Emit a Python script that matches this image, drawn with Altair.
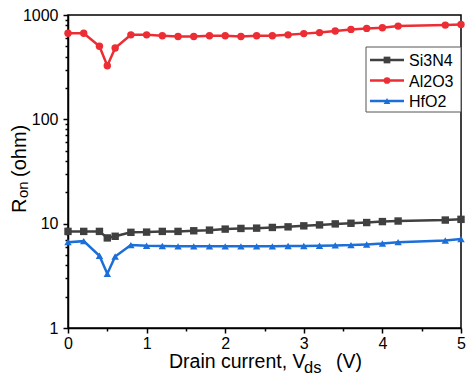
import altair as alt
import pandas as pd

# ---- data ----
vds = [0, 0.2, 0.4, 0.5, 0.6, 0.8, 1.0, 1.2, 1.4, 1.6, 1.8, 2.0, 2.2, 2.4, 2.6,
       2.8, 3.0, 3.2, 3.4, 3.6, 3.8, 4.0, 4.2, 4.8, 5.0]
si3n4 = [8.43, 8.43, 8.43, 7.30, 7.57, 8.26, 8.30, 8.43, 8.43, 8.55, 8.67, 8.87, 9.0,
         9.06, 9.2, 9.32, 9.53, 9.73, 9.95, 10.09, 10.25, 10.47, 10.6, 10.83, 11.0]
al2o3 = [668, 668, 501, 326, 483, 645, 645, 632, 622, 622, 632, 632, 622, 632, 632,
         645, 663, 678, 703, 728, 744, 755, 783, 800, 811]
hfo2 = [6.65, 6.8, 4.92, 3.31, 4.84, 6.23, 6.14, 6.1, 6.06, 6.06, 6.06, 6.06, 6.06,
        6.06, 6.06, 6.1, 6.1, 6.14, 6.19, 6.23, 6.32, 6.45, 6.65, 6.9, 7.14]

series_names = ["Si3N4", "Al2O3", "HfO2"]
series_colors = ["#404040", "#ec2d34", "#1c6ed8"]
series_shapes = ["square", "circle", "triangle-up"]

x_ticks = [0, 0.5, 1, 1.5, 2, 2.5, 3, 3.5, 4, 4.5, 5]
x_major = [0, 1, 2, 3, 4, 5]
y_major = [1, 10, 100, 1000]
y_ticks = [1, 2, 3, 4, 5, 6, 7, 8, 9, 10, 20, 30, 40, 50, 60, 70, 80, 90,
           100, 200, 300, 400, 500, 600, 700, 800, 900, 1000]

rows = []
for name, vals in zip(series_names, [si3n4, al2o3, hfo2]):
    for xv, yv in zip(vds, vals):
        rows.append({"vds": xv, "ron": yv, "series": name})
df = pd.DataFrame(rows)

FONT = "Liberation Sans"
W, H = 393, 313

color_scale = alt.Scale(domain=series_names, range=series_colors)
shape_scale = alt.Scale(domain=series_names, range=series_shapes)

x_major_s = "[" + ",".join(str(v) for v in x_major) + "]"
y_major_s = "[" + ",".join(str(v) for v in y_major) + "]"

x_enc = alt.X("vds:Q", scale=alt.Scale(domain=[0, 5], nice=False),
              axis=alt.Axis(values=x_ticks, title=None, grid=False,
                            labelExpr=f"indexof({x_major_s}, datum.value) >= 0 ? '' + datum.value : ''",
                            tickSize={"condition": {"test": f"indexof({x_major_s}, datum.value) >= 0", "value": 5}, "value": 3},
                            labelFlush=False, labelOverlap=False, labelPadding=2))
y_enc = alt.Y("ron:Q", scale=alt.Scale(type="log", domain=[1, 1000], nice=False),
              axis=alt.Axis(values=y_ticks, title=None, grid=False,
                            labelExpr=f"indexof({y_major_s}, datum.value) >= 0 ? '' + datum.value : ''",
                            tickSize={"condition": {"test": f"indexof({y_major_s}, datum.value) >= 0", "value": 5}, "value": 3},
                            labelFlush=False, labelOverlap=False, labelPadding=5))

base = alt.Chart(df)
lines = base.mark_line(strokeWidth=2.5).encode(
    x=x_enc, y=y_enc,
    color=alt.Color("series:N", scale=color_scale, legend=None),
    detail="series:N",
)
points = base.mark_point(filled=True, opacity=1, size=55).encode(
    x=x_enc, y=y_enc,
    color=alt.Color("series:N", scale=color_scale, legend=None),
    shape=alt.Shape("series:N", scale=shape_scale, legend=None),
)

# ---- axis titles with subscripts ----
def txt(s, x, y, size=20, angle=0):
    return alt.Chart(pd.DataFrame({"t": [s]})).mark_text(
        font=FONT, fontSize=size, color="black", align="left",
        baseline="alphabetic", angle=angle
    ).encode(text="t:N", x=alt.value(x), y=alt.value(y))

xt1 = txt("Drain current, V", 101, 353, size=19.5)
xt2 = txt("ds", 236, 358, size=16.5)
xt3 = txt("(V)", 268, 353, size=19.5)

yt1 = txt("R", -42, 198, angle=270)
yt2 = txt("on", -40, 183, size=15, angle=270)
yt3 = txt("(ohm)", -42, 162, size=20, angle=270)

# ---- legend ----
leg_box = alt.Chart(pd.DataFrame({"a": [0]})).mark_rect(
    fill="white", stroke="#555555", strokeWidth=1
).encode(x=alt.value(298), x2=alt.value(W), y=alt.value(32), y2=alt.value(97))

legend_layers = [leg_box]
for i, (name, col, shp) in enumerate(zip(series_names, series_colors, series_shapes)):
    ly = 45 + i * 20.5
    ldf = pd.DataFrame({"s": [name]})
    legend_layers.append(alt.Chart(ldf).mark_rule(color=col, strokeWidth=2.5).encode(
        x=alt.value(302), x2=alt.value(336), y=alt.value(ly)))
    legend_layers.append(alt.Chart(ldf).mark_point(filled=True, opacity=1, size=45,
                                                   color=col, shape=shp).encode(
        x=alt.value(319), y=alt.value(ly)))
    legend_layers.append(alt.Chart(ldf).mark_text(
        font=FONT, fontSize=16, color="black", align="left", baseline="middle").encode(
        text="s:N", x=alt.value(341), y=alt.value(ly + 1)))

chart = alt.layer(lines, points, xt1, xt2, xt3, yt1, yt2, yt3, *legend_layers).properties(
    width=W, height=H,
    padding={"left": 60, "top": 7, "right": 5, "bottom": 48},
    autosize=alt.AutoSizeParams(type="none"),
).configure_view(
    stroke="black", strokeWidth=1.5
).configure_axis(
    domainColor="black", domainWidth=1.5, tickColor="black", tickWidth=1.5,
    labelFont=FONT, labelFontSize=16, labelColor="black",
)

chart.save("out.html", embed_options={"renderer": "svg", "actions": False})
